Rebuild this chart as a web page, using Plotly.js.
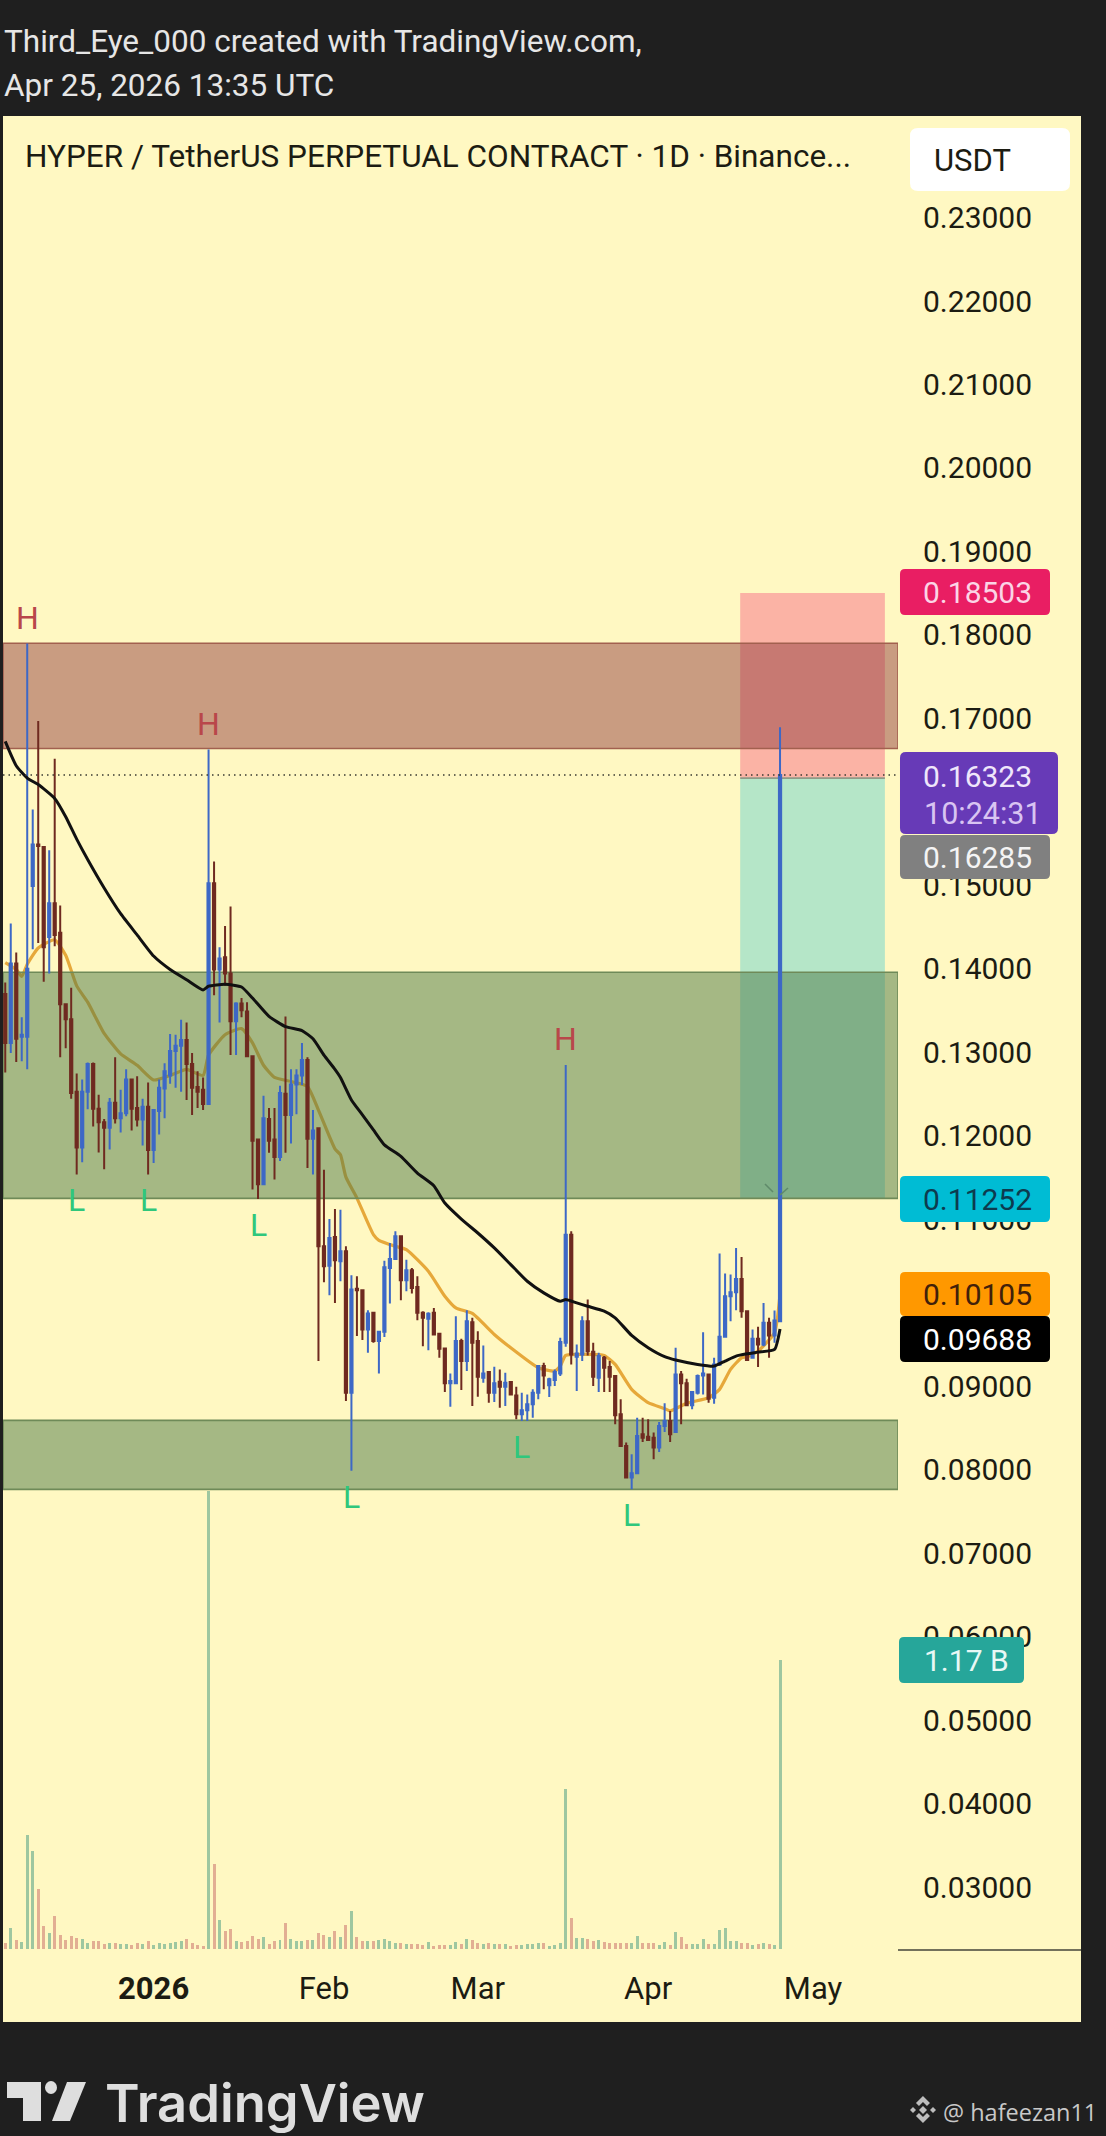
<!DOCTYPE html>
<html>
<head>
<meta charset="utf-8">
<script src="https://cdn.plot.ly/plotly-3.0.1.min.js"></script>
<style>html,body{margin:0;padding:0;background:#1f1f1f;overflow:hidden}#chart{width:1106px;height:2136px}</style>
</head>
<body>
<div id="chart"></div>
<script>
// ---- data ----
const firstDate = '2025-12-05';
const open_ = [.13700,.13114,.14066,.13187,.13187,.14993,.15491,.15461,.14383,.14788,.14432,.13578,.13397,.12529,.11860,.12529,.12860,.12324,.12163,.12099,.12397,.12211,.12270,.12675,.12333,.12197,.12348,
.11831,.12299,.12568,.12724,.13017,.13080,.13148,.12860,.12587,.12553,.12382,.15027,.13993,.14139,.13944,.13373,.13587,.13490,.12953,.11958,.11421,.12202,.11958,.11748,.12504,.12250,.12616,.12724,.12909,.11967,
.12092,.10678,.10446,.10789,.10498,.10618,.08924,.10168,.10152,.09681,.09881,.09542,.09653,.10419,.10526,.10797,.10271,.10391,.10191,.09881,.09809,.09881,.09630,.09454,.09036,.09036,.09542,.09303,.09769,.09542,.09103,.09171,.08924,.09056,.08996,.09052,.08892,.08665,.08713,.08785,.08924,.09243,.09012,.09076,.09155,.09522,.10817,.09355,.09382,.09781,.09414,.09103,.09343,.09231,.09123,.08665,.08287,.07908,.07960,.08426,.08398,.08386,.08267,.08526,.08585,.08454,.09143,.09036,.08773,.08924,.09131,.09143,.08864,.09263,.09594,.10080,.10128,.10287,.09901,.09343,.09570,.09502,.09761,.09609,.09781];
const high = [.13836,.14544,.14198,.13422,.17897,.15910,.16969,.15466,.15422,.16516,.14759,.13590,.13773,.12748,.12675,.12880,.12880,.12494,.12202,.12455,.12943,.12553,.12797,.12685,.12714,.12446,.12641,
.12319,.12675,.12870,.13222,.13212,.13392,.13358,.12992,.12773,.12700,.16628,.15286,.14261,.14515,.14749,.13602,.13651,.13602,.12960,.11965,.12480,.12333,.12333,.12602,.13431,.12797,.12797,.13114,.12943,.12309,
.12100,.11594,.11004,.11124,.11116,.10678,.10331,.10319,.10160,.09912,.09893,.09661,.10506,.10717,.10857,.10805,.10518,.10419,.10319,.09901,.09889,.09940,.09635,.09462,.09155,.09841,.09570,.09912,.09821,.09661,.09490,.09183,.09235,.09203,.09163,.09064,.08996,.08924,.08904,.08964,.09251,.09283,.09103,.09203,.09582,.12849,.10857,.09502,.09841,.10040,.09522,.09402,.09363,.09303,.09131,.08845,.08327,.08187,.08625,.08625,.08605,.08446,.08574,.08797,.08705,.09462,.09183,.09092,.08944,.09143,.09649,.09150,.09343,.10590,.10351,.10339,.10658,.10550,.09912,.09681,.09713,.10000,.09821,.09908,.16894];
const low = [.12758,.12992,.12885,.12895,.12797,.14237,.14310,.13846,.13944,.14271,.12943,.13051,.12446,.11538,.11684,.12319,.12114,.11801,.11601,.11836,.12148,.12041,.12236,.12065,.12114,.11885,.11538,
.11675,.12016,.12211,.12626,.12577,.12529,.12431,.12250,.12333,.12309,.12372,.13685,.13358,.13797,.12968,.12968,.13422,.12945,.11357,.11245,.11415,.11797,.11479,.11699,.11797,.11909,.12260,.12611,.11616,.11538,
.09303,.10247,.10092,.10000,.10259,.08825,.07988,.09602,.09554,.09402,.09522,.09155,.09590,.09992,.10515,.10032,.10140,.10112,.09793,.09482,.09434,.09615,.09343,.08932,.08757,.09030,.08956,.09183,.08765,.08876,.09044,.08805,.08813,.08745,.08765,.08892,.08605,.08585,.08585,.08625,.08845,.08964,.08872,.09004,.09123,.09474,.09263,.08944,.09303,.09371,.09004,.08932,.08932,.08932,.08545,.08280,.07900,.07769,.07948,.08334,.08346,.08127,.08215,.08454,.08334,.08446,.08545,.08765,.08725,.08904,.08904,.08805,.08793,.09243,.09582,.09781,.09912,.09821,.09310,.09331,.09231,.09482,.09343,.09522,.09770];
const close_ = [.13114,.14066,.13163,.13212,.14003,.15491,.15471,.14261,.14788,.14407,.13578,.13397,.12514,.11860,.12529,.12860,.12324,.12163,.12099,.12397,.12211,.12270,.12675,.12324,.12197,.12348,.11831,
.12309,.12577,.12773,.13017,.13080,.13148,.12860,.12577,.12529,.12382,.15027,.13993,.14124,.13944,.13373,.13587,.13505,.12953,.11943,.11421,.12211,.11943,.11748,.12514,.12250,.12616,.12724,.12909,.11967,.12065,
.10678,.10439,.10777,.10510,.10618,.08924,.10160,.10152,.09681,.09873,.09542,.09653,.10427,.10526,.10797,.10271,.10391,.10179,.09881,.09821,.09869,.09622,.09450,.09036,.09064,.09542,.09303,.09781,.09522,.09115,.09155,.08924,.09036,.08996,.09044,.08904,.08665,.08713,.08785,.08924,.09243,.09131,.09084,.09171,.09530,.10817,.09382,.09394,.09781,.09422,.09115,.09363,.09223,.09115,.08653,.08287,.07908,.07960,.08406,.08386,.08358,.08267,.08526,.08585,.08426,.09143,.09036,.08773,.08932,.09123,.09155,.08852,.09263,.09594,.10080,.10128,.10287,.09901,.09315,.09570,.09502,.09761,.09609,.09789,.16323];
// volume in millions
const volume = [24,84,35,27,462,396,243,92,62,132,54,35,51,45,38,24,30,31,20,24,24,20,19,16,23,20,31,
16,24,20,24,27,32,38,24,16,12,1854,343,116,70,81,32,27,32,51,41,49,19,32,36,105,41,32,30,36,36,63,57,46,73,49,97,153,49,30,30,30,36,41,30,24,
24,19,19,19,16,27,11,14,16,16,27,19,41,35,24,20,24,20,19,19,11,14,16,19,20,24,24,11,14,24,
648,124,43,43,41,32,35,27,22,24,22,24,24,51,22,22,24,14,27,16,68,49,20,19,20,41,19,19,76,84,32,30,24,24,16,20,24,19,16,1170];

// moving averages: day offset from 1 Jan 2026, value
const blackDays = [-27,-25,-23,-21,-18,-16,-14,-12,-9,-6,-3,0,3,6,9,10,13,16,18,21,24,27,29,31,33,34,36,38,40,42,45,48,51,53,56,59,62,65,68,71,74,75,77,79,82,84,87,90,93,95,99,102,104,106,108,110,113,114];
const blackMA = [.16725,.16433,.16286,.16208,.16042,.15823,.15554,.15310,.14969,.14661,.14407,.14154,.13993,.13871,.13749,.13793,.13817,.13783,.13651,.13431,.13309,.13261,.13163,.12968,.12797,.12700,.12431,.12252,.12072,.11893,.11754,.11554,.11403,.11196,.11004,.10837,.10658,.10458,.10259,.10120,.10020,.10040,.10000,.09960,.09901,.09821,.09610,.09462,.09355,.09315,.09263,.09243,.09303,.09363,.09390,.09410,.09442,.09688];
const orangeDays = [-27,-25,-24,-23,-21,-18,-16,-14,-12,-9,-6,-3,0,3,6,9,10,13,16,18,20,22,25,28,30,33,34,35,37,40,41,44,46,50,53,55,58,62,65,70,73,74,75,79,82,84,87,90,93,94,97,101,103,105,107,108,110,113,114];
const orangeMA = [.14076,.13993,.13910,.14056,.14251,.14349,.14163,.13797,.13602,.13227,.12982,.12846,.12670,.12724,.12797,.12724,.12968,.13212,.13285,.13114,.12846,.12700,.12651,.12592,.12309,.11845,.11773,.11506,.11255,.10817,.10749,.10678,.10638,.10379,.10080,.09940,.09873,.09622,.09462,.09223,.09183,.09243,.09371,.09383,.09371,.09263,.08964,.08805,.08733,.08705,.08797,.08864,.08964,.09203,.09343,.09355,.09422,.09642,.10105];

const priceTicks = [.03,.04,.05,.06,.07,.08,.09,.10,.11,.12,.13,.14,.15,.16,.17,.18,.19,.20,.21,.22,.23];
const monthTicks = ['2026-01-01','2026-02-01','2026-03-01','2026-04-01','2026-05-01'];
const monthLabels = ['<b>2026</b>','Feb','Mar','Apr','May'];

const zoneRed = [.17900,.16640];
const zoneMid = [.13960,.11252];
const zoneLow = [.08593,.07766];
const targetPrice = .18503, entryPrice = .16285, stopPrice = .11252, lastPrice = .16323;
const boxStart = '2026-04-17 18:00', boxEnd = '2026-05-14 02:00';
const pivotHighDays = [-23,10,75];
const pivotLowDays = [-14,-1,19,36,67,87];
const xLeft = '2025-12-04 14:10', xRight = '2026-05-16 11:15';

// ---- helpers ----
const PL=3,PR=898,PT=116,PB=1950;
const X=p=>(p-PL)/(PR-PL), Y=p=>(PB-p)/(PB-PT);
const yTop=.24216,yBot=.02249;
function dayToDate(d){const t=Date.UTC(2026,0,1)+d*86400000;return new Date(t).toISOString().slice(0,10);}
const firstOffset=(Date.parse(firstDate)-Date.UTC(2026,0,1))/86400000;
const dates=close_.map((_,i)=>dayToDate(firstOffset+i));
const idxOf=d=>d-firstOffset;

function rrPath(x0,y0,x1,y1,r){
 const a=(x,y)=>X(x).toFixed(5)+','+Y(y).toFixed(5);
 return 'M'+a(x0+r,y0)+' L'+a(x1-r,y0)+' Q'+a(x1,y0)+' '+a(x1,y0+r)+' L'+a(x1,y1-r)+' Q'+a(x1,y1)+' '+a(x1-r,y1)+' L'+a(x0+r,y1)+' Q'+a(x0,y1)+' '+a(x0,y1-r)+' L'+a(x0,y0+r)+' Q'+a(x0,y0)+' '+a(x0+r,y0)+' Z';
}
function polyPath(pts){return 'M'+pts.map(p=>X(p[0]).toFixed(5)+','+Y(p[1]).toFixed(5)).join(' L')+' Z';}
const rr=(x0,y0,x1,y1,r,c,layer)=>({type:'path',xref:'paper',yref:'paper',path:rrPath(x0,y0,x1,y1,r),fillcolor:c,line:{width:0},layer:layer||'above'});
const poly=(pts,c,layer)=>({type:'path',xref:'paper',yref:'paper',path:polyPath(pts),fillcolor:c,line:{width:0},layer:layer||'above'});
const F='Roboto, sans-serif';
const txt=(t,px,py,size,color,extra)=>Object.assign({xref:'paper',yref:'paper',x:X(px),y:Y(py),text:t,showarrow:false,xanchor:'left',yanchor:'middle',borderpad:0,font:{family:F,size:size,color:color}},extra||{});

function zoneTrace(z,fill,line){
 return {type:'scatter',mode:'lines',x:[xLeft,xRight,xRight,xLeft,xLeft],y:[z[0],z[0],z[1],z[1],z[0]],fill:'toself',fillcolor:fill,line:{color:line,width:1.6},hoverinfo:'skip',xaxis:'x',yaxis:'y'};
}

const traces=[
 {type:'scatter',mode:'lines',x:orangeDays.map(dayToDate),y:orangeMA,line:{color:'#e6a83a',width:3.2,shape:'spline',smoothing:.5},hoverinfo:'skip',xaxis:'x',yaxis:'y'},
 zoneTrace(zoneRed,'rgba(148,64,64,0.5)','#a2604f'),
 zoneTrace(zoneMid,'rgba(76,120,70,0.5)','#6f8a58'),
 zoneTrace(zoneLow,'rgba(76,120,70,0.5)','#6f8a58'),
 {type:'candlestick',x:dates,open:open_,high:high,low:low,close:close_,xaxis:'x',yaxis:'y2',hoverinfo:'skip',whiskerwidth:0,
  increasing:{line:{color:'#3d68c6',width:2},fillcolor:'#3d68c6'},
  decreasing:{line:{color:'#6f2a20',width:2},fillcolor:'#6f2a20'}},
 {type:'scatter',mode:'lines',x:blackDays.map(dayToDate),y:blackMA,line:{color:'#111111',width:3,shape:'spline',smoothing:.5},hoverinfo:'skip',xaxis:'x',yaxis:'y2'},
 {type:'bar',x:dates,y:volume,width:47000000,marker:{color:close_.map((c,i)=>c>=open_[i]?'#9ec7a0':'#e2ae93'),line:{width:0}},hoverinfo:'skip',xaxis:'x',yaxis:'y3'}
];

const shapes=[
 // pane
 {type:'path',xref:'paper',yref:'paper',path:polyPath([[3,116],[1081,116],[1081,2022],[3,2022]]),fillcolor:'#fff8c2',line:{width:0},layer:'below'},
 // target / stop box
 {type:'rect',xref:'x',yref:'y',x0:boxStart,x1:boxEnd,y0:entryPrice,y1:targetPrice,fillcolor:'#fbb3a5',line:{width:0},layer:'below'},
 {type:'rect',xref:'x',yref:'y',x0:boxStart,x1:boxEnd,y0:stopPrice,y1:entryPrice,fillcolor:'#b5e6c8',line:{width:0},layer:'below'},
 {type:'line',xref:'x',yref:'y',x0:boxStart,x1:boxEnd,y0:entryPrice,y1:entryPrice,line:{color:'#8f9a88',width:1.6},layer:'below'},
 // last price dotted line
 {type:'line',xref:'paper',yref:'y',x0:0,x1:1,y0:lastPrice,y1:lastPrice,line:{color:'#3a3a30',width:1.4,dash:'1.5px,4px'},layer:'above'},
 // entry chevrons
 {type:'line',xref:'paper',yref:'paper',x0:X(765),y0:Y(1184),x1:X(773),y1:Y(1192),line:{color:'#5f8a6a',width:1.6},layer:'above'},
 {type:'line',xref:'paper',yref:'paper',x0:X(788),y0:Y(1188),x1:X(780),y1:Y(1195),line:{color:'#5f8a6a',width:1.6},layer:'above'},
 // axis hairline on the price scale
 {type:'line',xref:'paper',yref:'paper',x0:X(898),x1:X(1081),y0:Y(1950),y1:Y(1950),line:{color:'#444438',width:1.4},layer:'above'},
 // USDT + tags
 rr(910,128,1070,191,8,'#ffffff'),
 rr(900,569,1050,615,5,'#e91e63'),
 rr(900,752,1058,834,6,'#673ab7'),
 rr(900,835,1050,879,5,'#808080'),
 rr(900,1176,1050,1222,5,'#00bcd4'),
 rr(900,1272,1050,1316,5,'#ff9800'),
 rr(900,1316,1050,1362,5,'#000000'),
 rr(899,1637,1024,1683,5,'#26a69a'),
 // TradingView logo
 poly([[7,2082],[41,2082],[41,2121],[23,2121],[23,2098],[7,2098]],'#dedede'),
 poly([[67,2082],[86,2082],[70,2121],[52,2121]],'#dedede'),
 {type:'circle',xref:'paper',yref:'paper',x0:X(45),x1:X(57),y0:Y(2081),y1:Y(2094),fillcolor:'#dedede',line:{width:0},layer:'above'},
 // exchange diamond mark
 poly([[923,2096],[930,2103],[927,2106],[923,2102],[919,2106],[916,2103]],'#bdbdbd'),
 poly([[923,2123],[930,2116],[927,2113],[923,2117],[919,2113],[916,2116]],'#bdbdbd'),
 poly([[923,2106],[927,2110],[923,2114],[919,2110]],'#bdbdbd'),
 poly([[913,2107],[916,2110],[913,2113],[910,2110]],'#bdbdbd'),
 poly([[933,2107],[936,2110],[933,2113],[930,2110]],'#bdbdbd')
];

const annotations=[
 txt('Third_Eye_000 created with TradingView.com,',3,41,31.5,'#e6e6e6'),
 txt('Apr 25, 2026 13:35 UTC',3,85,31.5,'#e6e6e6'),
 txt('HYPER / TetherUS PERPETUAL CONTRACT · 1D · Binance...',24,156,31.5,'#1c1c12'),
 txt('USDT',933,160,31,'#1c1c12'),
 txt('0.18503',922,592,30,'#fbd5e6'),
 txt('0.16323',922,776,30,'#efe6fb'),
 txt('10:24:31',923,813,30.5,'#d9c4f2'),
 txt('0.16285',922,857,30,'#f4f4f4'),
 txt('0.11252',922,1199,30,'#0d3b4f'),
 txt('0.10105',922,1295,30,'#41200a'),
 txt('0.09688',922,1339,30,'#ffffff'),
 txt('1.17 B',923,1660,30,'#e8f8f5'),
 txt('TradingView',104,2103,52.5,'#dedede',{font:{family:'Inter, sans-serif',size:52.5,color:'#dedede',weight:600}}),
 txt('@ hafeezan11',942,2112,23.5,'#c8c8c8',{font:{family:'"Open Sans", sans-serif',size:23.5,color:'#c8c8c8'}})
];
pivotHighDays.forEach(d=>annotations.push({xref:'x',yref:'y',x:dayToDate(d),y:high[idxOf(d)],yshift:26,text:'H',showarrow:false,yanchor:'middle',font:{family:F,size:32,color:'#b9474a'}}));
pivotLowDays.forEach(d=>annotations.push({xref:'x',yref:'y',x:dayToDate(d),y:low[idxOf(d)],yshift:-26,text:'L',showarrow:false,yanchor:'middle',font:{family:F,size:32,color:'#2fc77c'}}));

const layout={
 width:1106,height:2136,
 margin:{l:PL,r:1106-PR,t:PT,b:2136-PB,pad:0},
 paper_bgcolor:'#1f1f1f',plot_bgcolor:'rgba(0,0,0,0)',
 showlegend:false,boxgap:.42,boxgroupgap:.3,bargap:0,dragmode:false,
 xaxis:{type:'date',range:[xLeft,xRight],rangeslider:{visible:false},tickmode:'array',tickvals:monthTicks,ticktext:monthLabels,
  showgrid:false,zeroline:false,showline:false,ticks:'',ticklabelstandoff:17,tickangle:0,tickfont:{family:F,size:31,color:'#1c1c12'},fixedrange:true},
 yaxis:{range:[yBot,yTop],side:'right',tickmode:'array',tickvals:priceTicks,ticktext:priceTicks.map(v=>v.toFixed(5)),
  showgrid:false,zeroline:false,showline:false,ticks:'',ticklabelstandoff:24,tickfont:{family:F,size:30,color:'#1c1c12'},fixedrange:true},
 yaxis2:{range:[yBot,yTop],overlaying:'y',side:'right',visible:false,fixedrange:true},
 yaxis3:{range:[-5,7422],overlaying:'y',side:'left',visible:false,fixedrange:true},
 shapes:shapes,annotations:annotations
};
Plotly.newPlot('chart',traces,layout,{displayModeBar:false,staticPlot:true,responsive:false});
</script>
</body>
</html>
